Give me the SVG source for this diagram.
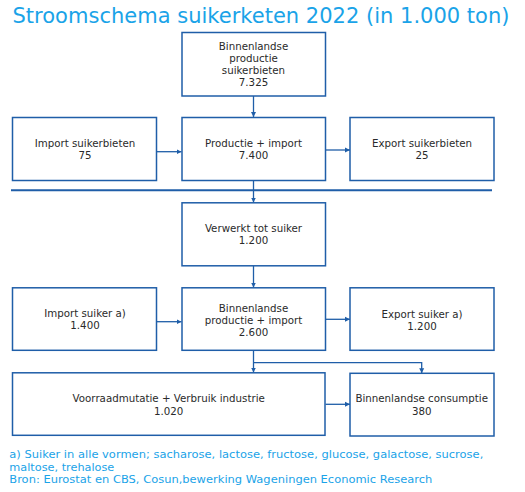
<svg xmlns="http://www.w3.org/2000/svg" width="525" height="492" viewBox="0 0 525 492">
<style>
.box{fill:#fff;stroke:#1f5ea8;stroke-width:1.5}
.t{font-family:"DejaVu Sans",Verdana,sans-serif;font-size:10.25px;fill:#2a2a2a;text-anchor:middle}
.c{fill:none;stroke:#1f5ea8;stroke-width:1.3}
.title{font-family:"DejaVu Sans",Verdana,sans-serif;font-size:21.3px;fill:#1aa3e8}
.note{font-family:"DejaVu Sans",Verdana,sans-serif;font-size:11px;fill:#1aa3e8}
</style>
<defs>
<marker id="ah" markerWidth="6" markerHeight="6" refX="5" refY="3" orient="auto" markerUnits="userSpaceOnUse">
<path d="M0,0.5 L5,3 L0,5.5 Z" fill="#1f5ea8"/>
</marker>
</defs>
<rect width="525" height="492" fill="#fff"/>
<text class="title" x="12.5" y="23" textLength="497" lengthAdjust="spacingAndGlyphs">Stroomschema suikerketen 2022 (in 1.000 ton)</text>
<g id="connectors">
<line class="c" x1="253.5" y1="96" x2="253.5" y2="117" marker-end="url(#ah)"/>
<line class="c" x1="157" y1="151.7" x2="181.5" y2="151.7" marker-end="url(#ah)"/>
<line class="c" x1="325.5" y1="150" x2="350" y2="150" marker-end="url(#ah)"/>
<line x1="11" y1="190.3" x2="492" y2="190.3" stroke="#1f5ea8" stroke-width="2"/>
<line class="c" x1="253.5" y1="180.5" x2="253.5" y2="202.5" marker-end="url(#ah)"/>
<line class="c" x1="253.5" y1="266" x2="253.5" y2="287.5" marker-end="url(#ah)"/>
<line class="c" x1="157" y1="321.7" x2="181.5" y2="321.7" marker-end="url(#ah)"/>
<line class="c" x1="325.5" y1="319.3" x2="350" y2="319.3" marker-end="url(#ah)"/>
<line class="c" x1="253.5" y1="350.5" x2="253.5" y2="372.5" marker-end="url(#ah)"/>
<polyline class="c" points="253.5,362.7 421.7,362.7 421.7,373.2" marker-end="url(#ah)"/>
<line class="c" x1="325.5" y1="404.3" x2="350" y2="404.3" marker-end="url(#ah)"/>
</g>
<g id="n-binnenlandse-productie-suikerbieten">
<rect class="box" x="182" y="32.5" width="143.5" height="63.5"/>
<text class="t" x="253.5" y="49.5">Binnenlandse</text>
<text class="t" x="253.5" y="61.8">productie</text>
<text class="t" x="253.5" y="74.1">suikerbieten</text>
<text class="t" x="253.5" y="86.4">7.325</text>
</g>
<g id="n-import-suikerbieten">
<rect class="box" x="12.5" y="117.5" width="144" height="63"/>
<text class="t" x="85" y="147.1">Import suikerbieten</text>
<text class="t" x="85" y="159.1">75</text>
</g>
<g id="n-productie-import">
<rect class="box" x="182" y="117.5" width="143.5" height="63"/>
<text class="t" x="253.5" y="147.1">Productie + import</text>
<text class="t" x="253.5" y="159.1">7.400</text>
</g>
<g id="n-export-suikerbieten">
<rect class="box" x="350" y="117.5" width="144" height="63"/>
<text class="t" x="422" y="147.1">Export suikerbieten</text>
<text class="t" x="422" y="159.1">25</text>
</g>
<g id="n-verwerkt-tot-suiker">
<rect class="box" x="182" y="202.8" width="143.5" height="63"/>
<text class="t" x="253.5" y="231.5">Verwerkt tot suiker</text>
<text class="t" x="253.5" y="244.1">1.200</text>
</g>
<g id="n-import-suiker">
<rect class="box" x="12.5" y="287.8" width="144" height="62.5"/>
<text class="t" x="85" y="317.1">Import suiker a)</text>
<text class="t" x="85" y="329.1">1.400</text>
</g>
<g id="n-binnenlandse-productie-import">
<rect class="box" x="182" y="287.8" width="143.5" height="62.5"/>
<text class="t" x="253.5" y="311.5">Binnenlandse</text>
<text class="t" x="253.5" y="323.5">productie + import</text>
<text class="t" x="253.5" y="335.5">2.600</text>
</g>
<g id="n-export-suiker">
<rect class="box" x="350" y="287.8" width="144" height="62.5"/>
<text class="t" x="422" y="317.8">Export suiker a)</text>
<text class="t" x="422" y="329.8">1.200</text>
</g>
<g id="n-voorraadmutatie">
<rect class="box" x="12.5" y="372.8" width="312.5" height="62.5"/>
<text class="t" x="168.7" y="402.1">Voorraadmutatie + Verbruik industrie</text>
<text class="t" x="168.7" y="414.5">1.020</text>
</g>
<g id="n-binnenlandse-consumptie">
<rect class="box" x="350" y="373.3" width="144" height="62.7"/>
<text class="t" x="421.7" y="402.1">Binnenlandse consumptie</text>
<text class="t" x="421.7" y="414.5">380</text>
</g>
<text class="note" x="9.3" y="457.6" textLength="474" lengthAdjust="spacingAndGlyphs">a) Suiker in alle vormen; sacharose, lactose, fructose, glucose, galactose, sucrose,</text>
<text class="note" x="9.3" y="470.5" textLength="105" lengthAdjust="spacingAndGlyphs">maltose, trehalose</text>
<text class="note" x="9.3" y="483.4" textLength="423" lengthAdjust="spacingAndGlyphs">Bron: Eurostat en CBS, Cosun,bewerking Wageningen Economic Research</text>
</svg>
